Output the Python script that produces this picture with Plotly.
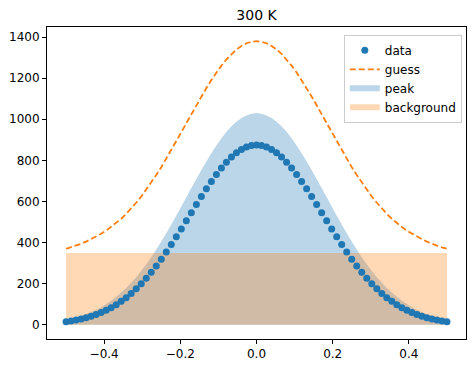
import numpy as np
import plotly.graph_objects as go

# x grid of the measurement (77 points from -0.5 to 0.5)
x_vals = np.linspace(-0.5, 0.5, 77)

# half-profiles, from the centre (x=0) outwards to |x|=0.5
data_half = [875, 872.6, 865.3, 853.3, 836.7, 816.0, 791.3, 763.0, 731.7, 697.8,
             661.7, 624.0, 585.1, 545.7, 506.0, 466.6, 427.9, 390.2, 353.8, 319.1,
             286.1, 255.2, 226.3, 199.5, 175.0, 152.6, 132.3, 114.1, 97.9, 83.4,
             70.8, 59.7, 50.0, 41.7, 34.6, 28.5, 23.4, 19.1, 15.5]
guess_half = [1380, 1377, 1370, 1357, 1340, 1318, 1291, 1261, 1228, 1191,
              1152, 1111, 1068, 1025, 981, 937, 893, 850, 808, 767,
              729, 692, 657, 624, 594, 566, 540, 516, 495, 476,
              458, 443, 429, 417, 405, 394, 385, 377, 370]
peak_half = [1030, 1027, 1019, 1006, 988, 966, 939, 908, 873, 835,
             795, 753, 710, 666, 621, 576, 532, 488, 446, 405,
             366, 329, 295, 262, 232, 205, 179, 157, 136, 117,
             101, 86, 73, 62, 52, 43, 36, 30, 25]
background_level = [350.0] * 77

def full(half):
    return list(reversed(half)) + list(half[1:])

data_vals = full(data_half)
guess_vals = full(guess_half)
peak_vals = full(peak_half)

fig = go.Figure()
fig.add_trace(go.Scatter(x=x_vals, y=peak_vals, mode="none", fill="tozeroy",
                         fillcolor="rgba(31,119,180,0.3)", name="peak", legendrank=3))
fig.add_trace(go.Scatter(x=x_vals, y=background_level, mode="none", fill="tozeroy",
                         fillcolor="rgba(255,127,14,0.3)", name="background", legendrank=4))
fig.add_trace(go.Scatter(x=x_vals, y=guess_vals, mode="lines",
                         line=dict(color="#ff7f0e", dash="6px,3px", width=1.8),
                         name="guess", legendrank=2))
fig.add_trace(go.Scatter(x=x_vals, y=data_vals, mode="markers",
                         marker=dict(color="#1f77b4", size=7),
                         name="data", legendrank=1))

axis_common = dict(showline=True, linecolor="black", linewidth=1, mirror=True,
                   ticks="outside", ticklen=4, tickcolor="black", showgrid=False,
                   zeroline=False, automargin=False,
                   tickfont=dict(family="DejaVu Sans", size=12, color="black"))

fig.update_layout(
    width=474, height=368,
    margin=dict(l=47, r=8, t=27, b=29),
    plot_bgcolor="white", paper_bgcolor="white",
    title=dict(text="300 K", x=(47 + 466) / 2 / 474, xanchor="center", y=1 - 15 / 368,
               yanchor="middle", font=dict(family="DejaVu Sans", size=14, color="black")),
    xaxis=dict(range=[-0.55, 0.55], tickvals=[-0.4, -0.2, 0.0, 0.2, 0.4],
               ticktext=["\u22120.4", "\u22120.2", "0.0", "0.2", "0.4"], **axis_common),
    yaxis=dict(range=[-69, 1449], tickvals=[0, 200, 400, 600, 800, 1000, 1200, 1400], **axis_common),
    legend=dict(x=0.99, y=0.975, xanchor="right", yanchor="top",
                bgcolor="rgba(255,255,255,0.8)", bordercolor="#cccccc", borderwidth=1,
                font=dict(family="DejaVu Sans", size=12, color="black"),
                itemwidth=30, tracegroupgap=0),
    showlegend=True,
)

fig.write_html("out.html", config={"displayModeBar": False},
               post_script="document.body.style.margin='0';document.body.style.overflow='hidden';")
